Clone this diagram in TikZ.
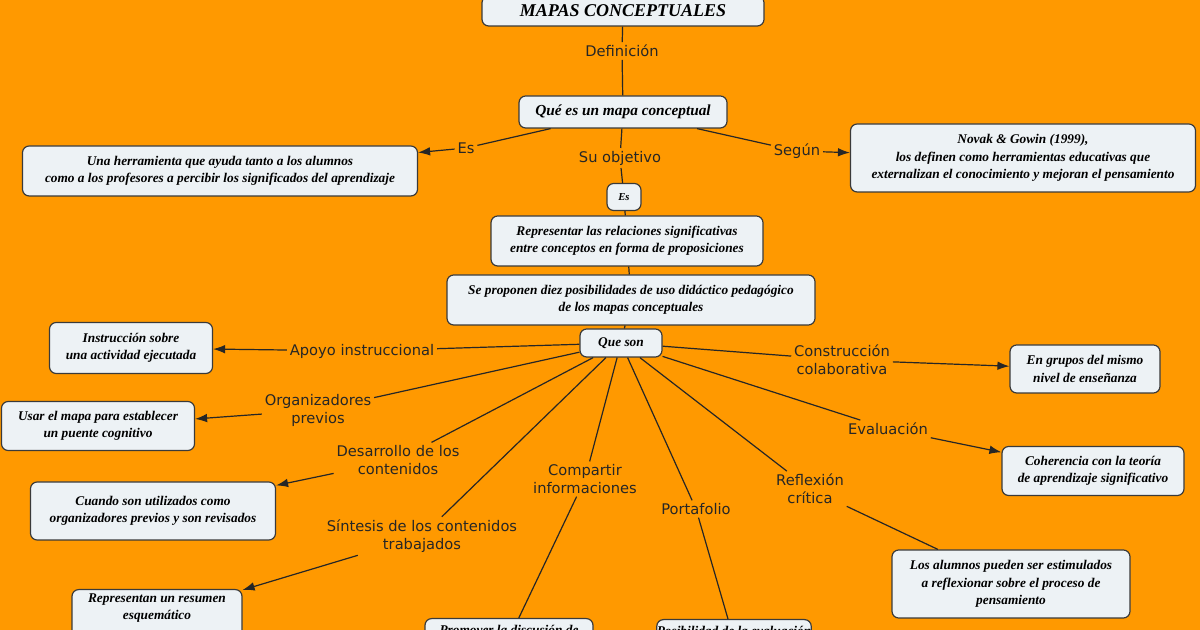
\documentclass[tikz,border=0pt]{standalone}
\usepackage{fontspec}
\setmainfont{Liberation Serif}
\newfontfamily\lblfont{DejaVu Sans}
\usetikzlibrary{arrows.meta}
\definecolor{bg}{HTML}{FF9900}
\definecolor{boxfill}{HTML}{EDF2F5}
\definecolor{edge}{HTML}{3A3A3A}
\begin{document}
\begin{tikzpicture}[x=0.75pt,y=-0.75pt,
  box/.style={draw=edge,line width=0.9pt,fill=boxfill,rounded corners=5pt,align=center,
    font=\fontsize{10}{13}\selectfont\bfseries\itshape,inner sep=0pt},
  lbl/.style={font=\lblfont\fontsize{11}{13.5}\selectfont,align=center,text=black!85,inner sep=2pt},
  ln/.style={draw=black!85,line width=0.9pt},
  arr/.style={ln,-{Latex[length=9pt,width=6.5pt]}}]
\fill[bg] (0,0) rectangle (1200,630);
\useasboundingbox (0,0) rectangle (1200,630);
\clip (0,0) rectangle (1200,630);
% boxes
\node[box,minimum width=282*0.75pt,minimum height=30*0.75pt,font=\fontsize{13.5}{16}\selectfont\bfseries\itshape] (title) at (623,11) {MAPAS CONCEPTUALES};
\node[box,minimum width=208*0.75pt,minimum height=32*0.75pt,font=\fontsize{11.5}{13}\selectfont\bfseries\itshape] (que) at (623,112) {Qué es un mapa conceptual};
\node[box,minimum width=395*0.75pt,minimum height=50*0.75pt] (herr) at (220,171) {Una herramienta que ayuda tanto a los alumnos\\como a los profesores a percibir los significados del aprendizaje};
\node[box,minimum width=345*0.75pt,minimum height=68*0.75pt] (novak) at (1023,158) {Novak \& Gowin (1999),\\los definen como herramientas educativas que\\externalizan el conocimiento y mejoran el pensamiento};
\node[box,minimum width=34*0.75pt,minimum height=27*0.75pt,font=\fontsize{8}{10}\selectfont\bfseries\itshape] (es) at (624,197) {Es};
\node[box,minimum width=272*0.75pt,minimum height=50*0.75pt] (repr) at (627,241) {Representar las relaciones significativas\\entre conceptos en forma de proposiciones};
\node[box,minimum width=368*0.75pt,minimum height=50*0.75pt] (prop) at (631,300) {Se proponen diez posibilidades de uso didáctico pedagógico\\de los mapas conceptuales};
\node[box,minimum width=82*0.75pt,minimum height=28*0.75pt] (qs) at (621,343) {Que son};
\node[box,minimum width=163*0.75pt,minimum height=51*0.75pt] (instr) at (131,348) {Instrucción sobre\\una actividad ejecutada};
\node[box,minimum width=193*0.75pt,minimum height=49*0.75pt] (usar) at (98,426) {Usar el mapa para establecer\\un puente cognitivo};
\node[box,minimum width=245*0.75pt,minimum height=58*0.75pt] (cuando) at (153,511) {Cuando son utilizados como\\organizadores previos y son revisados};
\node[box,minimum width=170*0.75pt,minimum height=52*0.75pt,anchor=north] (resum) at (157,589) {Representan un resumen\\esquemático\\ };
\node[box,minimum width=168*0.75pt,minimum height=40*0.75pt,anchor=north] (promo) at (509,618) {Promover la discusión de\\ };
\node[box,minimum width=148*0.75pt,minimum height=40*0.75pt,anchor=north] (posib) at (734,619) {Posibilidad de la evaluación\\ };
\node[box,minimum width=238*0.75pt,minimum height=68*0.75pt] (alum) at (1011,584) {Los alumnos pueden ser estimulados\\a reflexionar sobre el proceso de\\pensamiento};
\node[box,minimum width=182*0.75pt,minimum height=49*0.75pt] (coher) at (1093,471) {Coherencia con la teoría\\de aprendizaje significativo};
\node[box,minimum width=150*0.75pt,minimum height=48*0.75pt] (grup) at (1085,369) {En grupos del mismo\\nivel de enseñanza};
% labels
\node[lbl] (ldef) at (622,51) {Definición};
\node[lbl] (les) at (466,148) {Es};
\node[lbl] (lseg) at (797,151) {Según};
\node[lbl] (lobj) at (620,158) {Su objetivo};
\node[lbl] (lapo) at (362,351) {Apoyo instruccional};
\node[lbl] (lorg) at (318,410) {Organizadores\\previos};
\node[lbl] (ldes) at (398,460) {Desarrollo de los\\contenidos};
\node[lbl] (lsin) at (422,536) {Síntesis de los contenidos\\trabajados};
\node[lbl] (lcom) at (585,479) {Compartir\\informaciones};
\node[lbl] (lpor) at (696,509) {Portafolio};
\node[lbl] (lref) at (810,489) {Reflexión\\crítica};
\node[lbl] (leva) at (888,429) {Evaluación};
\node[lbl] (lcon) at (842,360) {Construcción\\colaborativa};
% connectors
\draw[ln] (title) -- (ldef);
\draw[ln] (ldef) -- (que);
\draw[ln] (que) -- (les);
\draw[arr] (les) -- (herr);
\draw[ln] (que) -- (lseg);
\draw[arr] (lseg) -- (novak);
\draw[ln] (que) -- (lobj);
\draw[ln] (lobj) -- (es);
\draw[ln] (es) -- (repr);
\draw[ln] (repr) -- (prop);
\draw[ln] (prop) -- (qs);
\draw[ln] (qs) -- (lapo);
\draw[arr] (lapo) -- (instr);
\draw[ln] (qs) -- (lorg);
\draw[arr] (lorg) -- (usar);
\draw[ln] (qs) -- (ldes);
\draw[arr] (ldes) -- (cuando);
\draw[ln] (qs) -- (lsin);
\draw[arr] (lsin) -- (resum);
\draw[ln] (qs) -- (lcom);
\draw[ln] (lcom) -- (promo);
\draw[ln] (qs) -- (lpor);
\draw[ln] (lpor) -- (posib);
\draw[ln] (qs) -- (lref);
\draw[ln] (lref) -- (alum);
\draw[ln] (qs) -- (leva);
\draw[arr] (leva) -- (coher);
\draw[ln] (qs) -- (lcon);
\draw[arr] (lcon) -- (grup);
\end{tikzpicture}
\end{document}
